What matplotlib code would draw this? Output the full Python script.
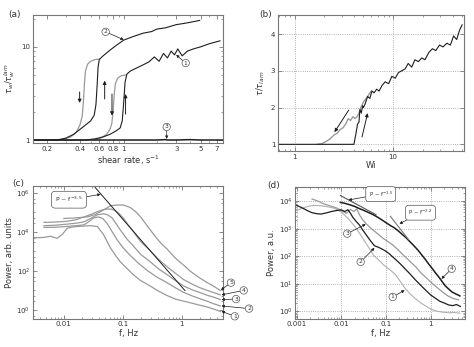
import matplotlib.pyplot as plt
import matplotlib.ticker as mticker

# ---- (a) stress vs shear rate ----
a2_up_x = [0.15, 0.25, 0.3, 0.35, 0.4, 0.45, 0.5, 0.54, 0.56, 0.575, 0.585, 0.6, 0.65, 0.75, 0.85, 1.0,
           1.2, 1.5, 1.8, 2.0, 2.4, 3.0, 3.5, 4.0, 4.9]
a2_up_y = [1.0, 1.0, 1.05, 1.15, 1.3, 1.45, 1.6, 1.85, 2.4, 4.0, 6.0, 7.3, 8.0, 9.2, 10.3, 11.8,
           12.8, 14.0, 14.6, 15.5, 16.0, 17.3, 17.8, 18.3, 19.2]
a2_dn_x = [0.6, 0.55, 0.5, 0.47, 0.45, 0.44, 0.43, 0.42, 0.4, 0.37, 0.33, 0.28, 0.22]
a2_dn_y = [7.4, 7.3, 7.0, 6.5, 5.5, 4.0, 2.5, 1.8, 1.45, 1.2, 1.08, 1.02, 1.0]
a1_up_x = [0.15, 0.45, 0.55, 0.65, 0.75, 0.85, 0.93, 0.97, 1.0, 1.03, 1.07, 1.15, 1.3, 1.5, 1.7, 1.9,
           2.1, 2.3, 2.5, 2.7, 2.9, 3.1, 3.4, 3.8, 4.3, 5.0, 6.0, 7.5]
a1_up_y = [1.0, 1.0, 1.03, 1.08, 1.15, 1.25, 1.35, 1.6, 2.5, 4.2, 5.1, 5.5, 5.9, 6.4, 6.9, 7.8,
           7.0, 8.5, 7.6, 9.0, 8.2, 9.5, 8.0, 9.0, 9.5, 10.0, 10.8, 11.6]
a1_dn_x = [1.05, 0.95, 0.88, 0.84, 0.82, 0.8, 0.78, 0.75, 0.7, 0.62, 0.55]
a1_dn_y = [5.0, 4.9, 4.6, 4.0, 3.0, 2.0, 1.5, 1.3, 1.15, 1.05, 1.0]
a3_x = [0.15, 0.5, 1.0, 2.0, 2.4, 2.5, 3.0, 4.0, 5.0, 6.0, 8.0]
a3_y = [1.0, 1.0, 1.0, 1.0, 1.01, 1.0, 1.0, 1.01, 1.0, 1.0, 1.0]
a_xticks = [0.2, 0.4, 0.6, 0.8, 1, 3, 5, 7]
a_xlabels = ['0.2', '0.4', '0.6', '0.8', '1', '3', '5', '7']

# ---- (b) tau/tau_lam vs Wi ----
b_up_x = [0.68, 1.0, 2.0, 3.0, 4.0, 4.2, 4.35, 4.5, 4.6, 4.75, 4.9, 5.0, 5.2, 5.5, 5.8, 6.1, 6.4, 6.8,
          7.2, 7.7, 8.3, 9.0, 9.7, 10.5, 11.3, 12.2, 13.2, 14.2, 15.4, 16.6, 18.0, 19.5, 21, 23, 25,
          27, 29.5, 32, 35, 38, 41, 44, 47, 50]
b_up_y = [1.0, 1.0, 1.0, 1.0, 1.0, 1.3, 1.55, 1.6, 1.95, 1.85, 2.05, 2.0, 2.1, 2.3, 2.25, 2.45, 2.4,
          2.5, 2.45, 2.6, 2.7, 2.65, 2.85, 2.8, 2.95, 3.0, 3.05, 3.2, 3.1, 3.3, 3.25, 3.35, 3.3, 3.5,
          3.6, 3.55, 3.7, 3.65, 3.75, 3.7, 3.95, 3.85, 4.1, 4.25]
b_dn_x = [6.0, 5.5, 5.0, 4.7, 4.5, 4.3, 4.1, 3.9, 3.7, 3.5, 3.3, 3.1, 2.9, 2.7, 2.5, 2.3, 2.1, 1.9, 1.7]
b_dn_y = [2.45, 2.3, 2.15, 2.0, 1.85, 1.75, 1.7, 1.75, 1.65, 1.7, 1.55, 1.45, 1.4, 1.3, 1.25, 1.15,
          1.08, 1.02, 1.0]

# ---- (c) power spectra ----
c1_f = [0.0031, 0.0045, 0.0059, 0.0077, 0.0094, 0.0114, 0.014, 0.017, 0.022, 0.028, 0.037, 0.047,
        0.061, 0.075, 0.09, 0.12, 0.15, 0.2, 0.29, 0.4, 0.56, 0.8, 1.2, 1.8, 2.6, 3.5, 4.5]
c1_p = [5.0e3, 5.2e3, 6.0e3, 4.7e3, 7.4e3, 1.55e4, 1.8e4, 1.9e4, 2.0e4, 2.1e4, 1.9e4, 7.4e3,
        1.6e3, 630, 300, 126, 65, 32, 17, 9.3, 5.5, 3.5, 2.6, 1.9, 1.45, 1.1, 0.83]
c2_f = [0.0046, 0.007, 0.011, 0.016, 0.022, 0.027, 0.032, 0.039, 0.046, 0.054, 0.065, 0.079, 0.1,
        0.133, 0.18, 0.25, 0.37, 0.56, 0.8, 1.07, 1.5, 2.0, 2.7, 3.4, 4.5]
c2_p = [1.7e4, 1.74e4, 1.9e4, 2.1e4, 2.3e4, 3.5e4, 5.2e4, 5.9e4, 4.8e4, 2.75e4, 1.1e4, 4.2e3, 1.6e3,
        630, 263, 115, 50, 25, 13, 7.9, 5.2, 3.8, 2.8, 2.1, 1.6]
c3_f = [0.0046, 0.007, 0.011, 0.016, 0.022, 0.028, 0.037, 0.047, 0.055, 0.066, 0.09, 0.12, 0.15,
        0.2, 0.29, 0.4, 0.56, 0.8, 1.07, 1.5, 2.0, 2.7, 3.4, 4.5]
c3_p = [2.1e4, 2.2e4, 2.5e4, 2.8e4, 3.3e4, 4.8e4, 7.6e4, 8.5e4, 7.6e4, 5.2e4, 1.3e4, 4.0e3, 1.95e3,
        710, 300, 130, 65, 30, 17, 10.7, 7.9, 5.6, 4.6, 3.4]
c4_f = [0.0046, 0.007, 0.011, 0.016, 0.022, 0.03, 0.037, 0.045, 0.054, 0.064, 0.074, 0.088, 0.103,
        0.125, 0.15, 0.2, 0.29, 0.4, 0.56, 0.8, 1.07, 1.5, 2.0, 2.7, 3.4, 4.5]
c4_p = [3.1e4, 3.2e4, 3.5e4, 4.2e4, 5.9e4, 8.3e4, 1.1e5, 1.35e5, 1.5e5, 1.48e5, 1.26e5, 8.3e4,
        4.9e4, 2.2e4, 1.07e4, 3.2e3, 1.1e3, 400, 166, 71, 36, 21, 14, 10, 7.9, 5.9]
c5_f = [0.01, 0.015, 0.025, 0.033, 0.042, 0.052, 0.061, 0.08, 0.103, 0.133, 0.165, 0.2, 0.24, 0.29,
        0.37, 0.45, 0.56, 0.7, 0.85, 1.07, 1.4, 2.0, 2.7, 3.4, 4.5]
c5_p = [4.9e4, 5.2e4, 5.9e4, 7.6e4, 1.1e5, 1.6e5, 2.2e5, 2.4e5, 2.4e5, 1.8e5, 1.1e5, 5.9e4, 2.8e4,
        1.3e4, 5.0e3, 2.5e3, 1.35e3, 630, 355, 200, 95, 44, 25, 17, 10]
c_fit_f = [0.034, 1.13]
c_fit_p = [1.9e6, 9.8]

# ---- (d) power spectra ----
d1_f = [0.001, 0.0013, 0.0018, 0.0025, 0.0035, 0.005, 0.007, 0.01, 0.014, 0.02, 0.026, 0.032, 0.04,
        0.052, 0.07, 0.09, 0.12, 0.16, 0.21, 0.27, 0.35, 0.45, 0.6, 0.8, 1.0, 1.4, 1.9, 2.6, 3.4, 4.5]
d1_p = [4.5e3, 5.5e3, 6.5e3, 7e3, 6.8e3, 6.2e3, 5.5e3, 4e3, 2.4e3, 1.2e3, 650, 380, 220, 110, 70, 47,
        33, 22, 12, 6.6, 4.2, 2.9, 2.0, 1.5, 1.2, 1.0, 0.92, 0.88, 0.9, 0.85]
d2_f = [0.001, 0.0013, 0.0017, 0.0022, 0.0028, 0.0035, 0.0045, 0.006, 0.008, 0.01, 0.012, 0.014,
        0.016, 0.018, 0.021, 0.025, 0.03, 0.037, 0.045, 0.055, 0.068, 0.085, 0.1, 0.12, 0.14, 0.17,
        0.21, 0.27, 0.35, 0.45, 0.6, 0.8, 1.0, 1.3, 1.6, 2.0, 2.5, 3.1, 3.8, 4.6]
d2_p = [7e3, 5.8e3, 4.6e3, 3.8e3, 3.5e3, 3.4e3, 3.7e3, 4.2e3, 4.6e3, 4.8e3, 4.2e3, 4.9e3, 3.6e3,
        2.6e3, 1.9e3, 1.4e3, 900, 560, 360, 240, 210, 175, 150, 120, 95, 72, 52, 34, 22, 14, 8.7,
        5.5, 3.9, 2.9, 2.3, 2.0, 1.7, 1.6, 1.75, 1.5]
d3_f = [0.0022, 0.003, 0.004, 0.0055, 0.0079, 0.01, 0.013, 0.016, 0.019, 0.022, 0.026, 0.03, 0.036,
        0.044, 0.052, 0.065, 0.085, 0.11, 0.14, 0.18, 0.23, 0.3, 0.37, 0.47, 0.6, 0.78, 1.0, 1.3,
        1.6, 2.0, 2.5, 3.2, 4.2]
d3_p = [1.2e4, 1e4, 8e3, 6.8e3, 5.6e3, 4.5e3, 3.6e3, 5e3, 4.2e3, 5.2e3, 3e3, 2.1e3, 1.5e3, 1.1e3,
        870, 650, 450, 340, 260, 180, 120, 80, 58, 40, 25, 17, 11.5, 8, 6, 4.5, 3.5, 2.9, 2.6]
d4_f = [0.0095, 0.012, 0.015, 0.02, 0.025, 0.03, 0.04, 0.052, 0.065, 0.08, 0.1, 0.125, 0.15, 0.19,
        0.23, 0.28, 0.34, 0.42, 0.52, 0.62, 0.75, 0.9, 1.05, 1.25, 1.5, 1.8, 2.1, 2.5, 3.0, 3.6, 4.5]
d4_p = [9e3, 8.3e3, 7.5e3, 6.4e3, 5.4e3, 4.8e3, 3.9e3, 3.2e3, 2.6e3, 2.1e3, 1.65e3, 1.3e3, 1.1e3,
        820, 620, 470, 340, 240, 165, 115, 78, 52, 38, 26, 18, 12, 8.5, 6.5, 5, 4.3, 3.6]
d_fit15_f = [0.0095, 0.06]
d_fit15_p = [1.6e4, 3.2e3]
d_fit22_f = [0.125, 0.32]
d_fit22_p = [2.8e3, 400]

GREY = '#9a9a9a'
DARK = '#1e1e1e'
TXT = '#333333'


def style(ax):
    for s in ax.spines.values():
        s.set_color('#777777')
        s.set_linewidth(0.8)
    ax.tick_params(which='both', direction='in', top=True, right=True, colors='#777777',
                   labelcolor=TXT, labelsize=5, pad=2)
    ax.tick_params(which='major', length=3, width=0.6)
    ax.tick_params(which='minor', length=1.5, width=0.5)


def circ(ax, s, xy_text, xy_tip):
    ax.annotate(s, xy=xy_tip, xytext=xy_text, fontsize=4.3, color=TXT, ha='center', va='center',
                bbox=dict(boxstyle='circle,pad=0.2', fc='white', ec='#555555', lw=0.5),
                arrowprops=dict(arrowstyle='-|>', color=DARK, lw=0.5, mutation_scale=4,
                                shrinkA=0, shrinkB=0),
                annotation_clip=False)


def arrow(ax, tail, tip):
    ax.annotate('', xy=tip, xytext=tail,
                arrowprops=dict(arrowstyle='-|>', color=DARK, lw=0.7, mutation_scale=5,
                                shrinkA=0, shrinkB=0))


fig = plt.figure(figsize=(4.74, 3.47), dpi=100)
fig.patch.set_facecolor('white')

# (a)
ax = fig.add_axes([0.0696, 0.588, 0.401, 0.369])
ax.plot(a2_dn_x, a2_dn_y, color=GREY, lw=0.9)
ax.plot(a1_dn_x, a1_dn_y, color=GREY, lw=0.9)
ax.plot(a2_up_x, a2_up_y, color=DARK, lw=0.8)
ax.plot(a1_up_x, a1_up_y, color=DARK, lw=0.8)
ax.plot(a3_x, a3_y, color=DARK, lw=1.1)
ax.set_xscale('log')
ax.set_yscale('log')
ax.set_xlim(0.15, 8)
ax.set_ylim(0.93, 22)
ax.xaxis.set_major_locator(mticker.FixedLocator(a_xticks))
ax.xaxis.set_major_formatter(mticker.FixedFormatter(a_xlabels))
ax.xaxis.set_minor_formatter(mticker.NullFormatter())
ax.yaxis.set_major_locator(mticker.FixedLocator([1, 10]))
ax.yaxis.set_major_formatter(mticker.FixedFormatter(['1', '10']))
ax.yaxis.set_minor_formatter(mticker.NullFormatter())
style(ax)
ax.set_xlabel('shear rate, s$^{-1}$', fontsize=6, color=TXT, labelpad=1)
ax.set_ylabel(r'$\tau_w/\tau_w^{lam}$', fontsize=6, color=TXT, labelpad=3)
arrow(ax, (0.398, 3.28), (0.398, 2.5))
arrow(ax, (0.672, 2.76), (0.672, 4.34))
arrow(ax, (0.783, 3.12), (0.783, 1.83))
arrow(ax, (1.04, 1.9), (1.04, 3.12))
circ(ax, '2', (0.686, 14.5), (1.0, 11.9))
circ(ax, '1', (3.66, 6.7), (3.0, 8.2))
circ(ax, '3', (2.46, 1.38), (2.46, 1.03))

# (b)
ax = fig.add_axes([0.5865, 0.565, 0.392, 0.392])
ax.plot(b_dn_x, b_dn_y, color=GREY, lw=1.0)
ax.plot(b_up_x, b_up_y, color=DARK, lw=0.8)
ax.set_xscale('log')
ax.set_xlim(0.68, 52)
ax.set_ylim(0.82, 4.52)
ax.xaxis.set_major_locator(mticker.FixedLocator([1, 10]))
ax.xaxis.set_major_formatter(mticker.FixedFormatter(['1', '10']))
ax.xaxis.set_minor_formatter(mticker.NullFormatter())
ax.set_yticks([1, 2, 3, 4])
ax.grid(True, which='major', ls=':', color='#999999', lw=0.6)
style(ax)
ax.set_xlabel('Wi', fontsize=6, color=TXT, labelpad=1)
ax.set_ylabel(r'$\tau/\tau_{lam}$', fontsize=6, color=TXT, labelpad=3)
arrow(ax, (3.54, 1.93), (2.54, 1.33))
arrow(ax, (4.83, 1.2), (5.51, 1.85))

# (c)
ax = fig.add_axes([0.0696, 0.0816, 0.401, 0.382])
for f, p in [(c1_f, c1_p), (c2_f, c2_p), (c3_f, c3_p), (c4_f, c4_p), (c5_f, c5_p)]:
    ax.plot(f, p, color=GREY, lw=0.9)
ax.plot(c_fit_f, c_fit_p, color=DARK, lw=0.7)
ax.set_xscale('log')
ax.set_yscale('log')
ax.set_xlim(0.003, 5.0)
ax.set_ylim(10 ** -0.45, 10 ** 6.35)
ax.xaxis.set_major_locator(mticker.FixedLocator([0.01, 0.1, 1]))
ax.xaxis.set_major_formatter(mticker.FixedFormatter(['0.01', '0.1', '1']))
ax.xaxis.set_minor_formatter(mticker.NullFormatter())
ax.yaxis.set_major_locator(mticker.FixedLocator([1, 1e2, 1e4, 1e6]))
ax.yaxis.set_major_formatter(mticker.FixedFormatter(['$10^{0}$', '$10^{2}$', '$10^{4}$', '$10^{6}$']))
ax.yaxis.set_minor_locator(mticker.LogLocator(base=10, subs=(1.0, 3.0, 5.0), numticks=20))
ax.yaxis.set_minor_formatter(mticker.NullFormatter())
style(ax)
ax.set_xlabel('f, Hz', fontsize=6, color=TXT, labelpad=1)
ax.set_ylabel('Power, arb. units', fontsize=6, color=TXT, labelpad=2)
ax.annotate('P ~ f$^{-3.5}$', xy=(0.042, 8.5e5), xytext=(0.0122, 4.5e5), fontsize=4.5, color=TXT,
            ha='center', va='center',
            bbox=dict(boxstyle='round,pad=0.6,rounding_size=0.6', fc='white', ec='#555555', lw=0.5),
            arrowprops=dict(arrowstyle='-|>', color=DARK, lw=0.5, mutation_scale=4, shrinkA=0, shrinkB=0))
circ(ax, '5', (6.8, 25), (4.6, 10.5))
circ(ax, '4', (11.2, 10), (4.7, 5.9))
circ(ax, '3', (8.3, 3.6), (4.7, 3.4))
circ(ax, '2', (13.8, 1.17), (4.7, 1.6))
circ(ax, '1', (7.9, 0.47), (4.7, 0.85))

# (d)
ax = fig.add_axes([0.623, 0.0816, 0.359, 0.38])
ax.plot(d1_f, d1_p, color='#b0b0b0', lw=0.8)
ax.plot(d3_f, d3_p, color=GREY, lw=0.9)
ax.plot(d2_f, d2_p, color=DARK, lw=0.9)
ax.plot(d4_f, d4_p, color=DARK, lw=1.1)
ax.plot(d_fit15_f, d_fit15_p, color='#555555', lw=0.8)
ax.plot(d_fit22_f, d_fit22_p, color='#777777', lw=0.8)
ax.set_xscale('log')
ax.set_yscale('log')
ax.set_xlim(0.00093, 6.0)
ax.set_ylim(10 ** -0.27, 10 ** 4.52)
ax.xaxis.set_major_locator(mticker.FixedLocator([0.001, 0.01, 0.1, 1]))
ax.xaxis.set_major_formatter(mticker.FixedFormatter(['0.001', '0.01', '0.1', '1']))
ax.xaxis.set_minor_formatter(mticker.NullFormatter())
ax.yaxis.set_major_locator(mticker.FixedLocator([1, 10, 100, 1e3, 1e4]))
ax.yaxis.set_major_formatter(mticker.FixedFormatter(['$10^{0}$', '$10^{1}$', '$10^{2}$', '$10^{3}$', '$10^{4}$']))
ax.yaxis.set_minor_formatter(mticker.NullFormatter())
ax.grid(True, which='major', ls=':', color='#999999', lw=0.6)
style(ax)
ax.set_xlabel('f, Hz', fontsize=6, color=TXT, labelpad=1)
ax.set_ylabel('Power, a.u.', fontsize=6, color=TXT, labelpad=2)
ax.annotate('P ~ f$^{-1.5}$', xy=(0.0145, 1.1e4), xytext=(0.076, 1.8e4), fontsize=4, color=TXT,
            ha='center', va='center',
            bbox=dict(boxstyle='round,pad=0.5,rounding_size=0.5', fc='white', ec='#555555', lw=0.5),
            arrowprops=dict(arrowstyle='-|>', color=DARK, lw=0.5, mutation_scale=4, shrinkA=0, shrinkB=0))
ax.annotate('P ~ f$^{-2.2}$', xy=(0.2, 1.5e3), xytext=(0.59, 3.8e3), fontsize=4, color=TXT,
            ha='center', va='center',
            bbox=dict(boxstyle='round,pad=0.5,rounding_size=0.5', fc='white', ec='#555555', lw=0.5),
            arrowprops=dict(arrowstyle='-|>', color=DARK, lw=0.5, mutation_scale=4, shrinkA=0, shrinkB=0))
circ(ax, '1', (0.141, 3.3), (0.26, 5.8))
circ(ax, '2', (0.027, 62), (0.055, 200))
circ(ax, '3', (0.0135, 660), (0.035, 1450))
circ(ax, '4', (2.95, 35), (1.74, 15))

fig.text(0.017, 0.957, '(a)', fontsize=6.5, color=TXT, va='center')
fig.text(0.546, 0.957, '(b)', fontsize=6.5, color=TXT, va='center')
fig.text(0.025, 0.472, '(c)', fontsize=6.5, color=TXT, va='center')
fig.text(0.563, 0.465, '(d)', fontsize=6.5, color=TXT, va='center')

fig.savefig('out.png', dpi=100)
